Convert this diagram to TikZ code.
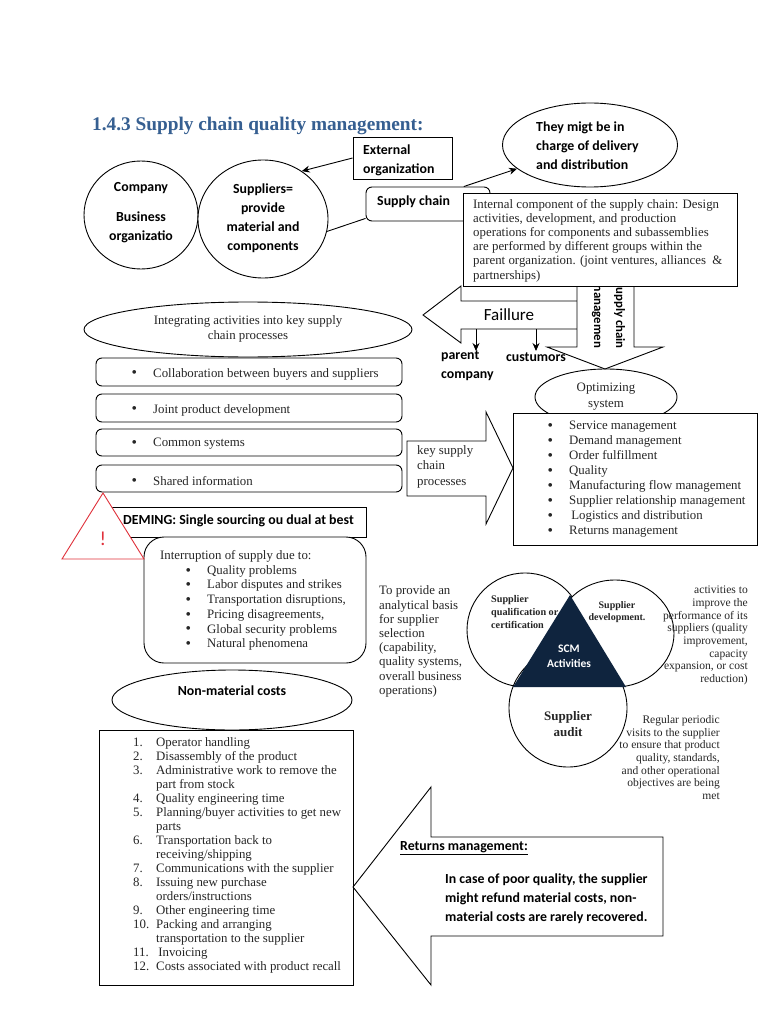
\documentclass[tikz,border=0pt]{standalone}
\usepackage{fontspec}
\setmainfont{Liberation Serif}
\newfontfamily\crl{Carlito}
\usetikzlibrary{shapes.geometric,arrows.meta}
\definecolor{ink}{HTML}{262626}
\definecolor{headblue}{HTML}{365F91}
\definecolor{navy}{HTML}{0F243E}
\definecolor{warn}{HTML}{E0313B}
\newcommand{\fs}[2]{\fontsize{#1}{#2}\selectfont}
\newcommand{\bigbul}{\raisebox{-0.9pt}{\fs{15.5}{15.5}\textbullet}}
\newcommand{\bl}[1]{\makebox[21pt][l]{\hspace{-0.5pt}\bigbul}#1}
\newcommand{\cn}[2]{\makebox[23pt][l]{#1}#2}
\tikzset{
  x=1pt,y=-1pt,
  shp/.style={draw=black,line width=0.9pt,fill=white,inner sep=0pt},
  ell/.style={shp,ellipse},
  rct/.style={shp,rectangle},
  rnd/.style={shp,rectangle,rounded corners=6pt},
  lab/.style={inner sep=0pt,text=black,font=\crl\bfseries\fs{13.85}{19},align=left},
  labc/.style={lab,align=center},
  ser/.style={inner sep=0pt,text=ink,font=\fs{12.85}{14.2},align=left},
  serc/.style={ser,align=center},
  serr/.style={ser,font=\fs{11.55}{12.7},align=right},
  conn/.style={line width=0.9pt},
  arr/.style={conn,-{Stealth[length=8pt,width=7pt]}},
}
\begin{document}
\begin{tikzpicture}
\useasboundingbox[fill=white] (0,0) rectangle (768,1024);
% title
\node[anchor=base west,inner sep=0pt,text=headblue,font=\bfseries\fs{19.3}{21}] (title) at (92,131) {1.4.3 Supply chain quality management:};
% top left circles
\node[ell,minimum width=114pt,minimum height=108pt] (co) at (141,215) {};
\node[ell,minimum width=130pt,minimum height=118pt] (sup) at (263,219) {};
\node[labc] (cotxt) at (141,213) {Company\\[11pt]Business\\organizatio};
\node[labc] (suptxt) at (263,218.5) {Suppliers=\\provide\\material and\\components};
% external
\node[rct,minimum width=99pt,minimum height=42pt] (ext) at (402.5,158) {};
\node[lab,anchor=west] (exttxt) at (363,160.5) {External\\organization};
\draw[arr] (ext.west) -- (sup.51);
% they
\node[ell,minimum width=175pt,minimum height=84pt] (they) at (590,145) {};
\node[lab,anchor=west] (theytxt) at (536,146) {They migt be in\\charge of delivery\\and distribution};
% supply chain
\node[rnd,minimum width=124pt,minimum height=34pt] (sc) at (428,204) {};
\node[lab,anchor=west] (sctxt) at (377,201.5) {Supply chain};
\draw[conn] (sup.-11) -- (sc.193);
\draw[arr] (sc.26) -- (they.198);
% failure arrow
\draw[shp] (461,286) -- (461,301) -- (590,301) -- (590,329) -- (461,329) -- (461,343) -- (423,315) -- cycle;
\node[lab,font=\crl\fs{17}{19}] (fail) at (509,315) {Faillure};
\coordinate (f1) at (476,329);
\coordinate (f2) at (536,329);
\coordinate (p1) at (476,351);
\coordinate (p2) at (536,351);
\draw[arr] (f1) -- (p1);
\draw[arr] (f2) -- (p2);
\node[lab,anchor=west] (par) at (441,366) {parent\\company};
% optimizing ellipse
\node[ell,minimum width=142pt,minimum height=56pt] (opt) at (606,397) {};
\node[serc] (opttxt) at (606,396.5) {Optimizing\\[1.5pt]system};
% down arrow
\draw[shp] (577,280) -- (577,347) -- (547,347) -- (605,369) -- (663,347) -- (634,347) -- (634,280) -- cycle;
\node[labc,rotate=-90,font=\crl\bfseries\fs{12.8}{22}] (mgmt) at (608.5,315) {Supply chain\\managemen};
\node[lab] (cus) at (536,357) {custumors};
% internal
\node[rct,minimum width=274pt,minimum height=93pt] (int) at (600,239.5) {};
\node[ser,anchor=west] (inttxt) at (473,240.5) {Internal component of the supply chain: Design\\activities, development, and production\\operations for components and subassemblies\\are performed by different groups within the\\parent organization. (joint ventures, alliances \ \&\\partnerships)};
% integrating
\node[ell,minimum width=328pt,minimum height=55pt] (integ) at (248,329.5) {};
\node[serc,font=\fs{12.85}{15}] (integtxt) at (248,329) {Integrating activities into key supply\\chain processes};
\node[rnd,minimum width=306pt,minimum height=28pt] (r1) at (249,372) {};
\node[rnd,minimum width=306pt,minimum height=28pt] (r2) at (249,408) {};
\node[rnd,minimum width=306pt,minimum height=27pt] (r3) at (249,442.5) {};
\node[rnd,minimum width=306pt,minimum height=27pt] (r4) at (249,478.5) {};
\node[ser,anchor=west] (r1t) at (132,374) {\bl{Collaboration between buyers and suppliers}};
\node[ser,anchor=west] (r2t) at (132,410) {\bl{Joint product development}};
\node[ser,anchor=west] (r3t) at (132,444) {\bl{Common systems}};
\node[ser,anchor=west] (r4t) at (132,481) {\bl{Shared information}};
% key arrow
\draw[shp] (407,441) -- (486,441) -- (486,412) -- (513,468) -- (486,524) -- (486,496) -- (407,496) -- cycle;
\node[ser,anchor=west,font=\fs{12.85}{15.5}] (keytxt) at (417,466.5) {key supply\\chain\\processes};
% list box
\node[rct,minimum width=244pt,minimum height=132pt] (lst) at (635,479) {};
\node[ser,anchor=west,font=\fs{12.85}{15}] (lsttxt) at (548,479.5) {\bl{Service management}\\\bl{Demand management}\\\bl{Order fulfillment}\\\bl{Quality}\\\bl{Manufacturing flow management}\\\bl{Supplier relationship management}\\\bl{\,Logistics and distribution}\\\bl{Returns management}};
% deming + warning
\node[rct,minimum width=254pt,minimum height=30pt] (dem) at (239,522) {};
\node[rnd,rounded corners=20pt,minimum width=222pt,minimum height=126pt] (intr) at (255,600) {};
\draw[draw=warn,line width=0.9pt,fill=white] (103,493) -- (144,559) -- (62,559) -- cycle;
\node[inner sep=0pt,text=warn,font=\crl\fs{20}{22}] (bang) at (103,539) {!};
\node[lab,anchor=west,font=\crl\bfseries\fs{13.85}{16}] (demtxt) at (123,520.5) {DEMING: Single sourcing ou dual at best};
\node[ser,anchor=west,font=\fs{12.85}{14.7}] (intrtxt) at (160,600.5) {Interruption of supply due to:\\\hspace*{26pt}\bl{Quality problems}\\\hspace*{26pt}\bl{Labor disputes and strikes}\\\hspace*{26pt}\bl{Transportation disruptions,}\\\hspace*{26pt}\bl{Pricing disagreements,}\\\hspace*{26pt}\bl{Global security problems}\\\hspace*{26pt}\bl{Natural phenomena}};
% non material
\node[ell,minimum width=240pt,minimum height=60pt] (nm) at (232,700) {};
\node[lab] (nmtxt) at (232,690.5) {Non-material costs};
% cost list
\node[rct,minimum width=254pt,minimum height=255pt] (cost) at (226,857.5) {};
\node[ser,anchor=west,font=\fs{12.85}{14}] (costtxt) at (133,855) {\cn{1.}{Operator handling}\\\cn{2.}{Disassembly of the product}\\\cn{3.}{Administrative work to remove the}\\\hspace*{23pt}part from stock\\\cn{4.}{Quality engineering time}\\\cn{5.}{Planning/buyer activities to get new}\\\hspace*{23pt}parts\\\cn{6.}{Transportation back to}\\\hspace*{23pt}receiving/shipping\\\cn{7.}{Communications with the supplier}\\\cn{8.}{Issuing new purchase}\\\hspace*{23pt}orders/instructions\\\cn{9.}{Other engineering time}\\\cn{10.}{Packing and arranging}\\\hspace*{23pt}transportation to the supplier\\\cn{11.}{\,Invoicing}\\\cn{12.}{Costs associated with product recall}};
% returns arrow
\draw[shp] (663,837) -- (431,837) -- (431,787) -- (353,887) -- (431,985) -- (431,936) -- (663,936) -- cycle;
\node[lab,anchor=west,font=\crl\bfseries\fs{13.85}{15}] (rettxt) at (400,848.5) {\underline{Returns management:}};
\node[lab,anchor=west,font=\crl\bfseries\fs{13.85}{19}] (rettxt2) at (445,898.5) {In case of poor quality, the supplier\\might refund material costs, non-\\material costs are rarely recovered.};
% venn
\node[ell,minimum width=116pt,minimum height=114pt] (v1) at (525,630) {};
\node[ell,minimum width=118pt,minimum height=107pt] (v2) at (615,633.5) {};
\node[ell,minimum width=118pt,minimum height=118pt] (v3) at (568,708) {};
\fill[navy] (570,595) -- (626,687) -- (513,687) -- cycle;
\node[ser,anchor=west,font=\bfseries\fs{10.2}{13}] (v1t) at (491,612.5) {Supplier\\qualification or\\certification};
\node[ser,align=center,font=\bfseries\fs{10}{12.5}] (v2t) at (617,612) {Supplier\\development.};
\node[inner sep=0pt,align=center,text=white,font=\crl\bfseries\fs{11.5}{15}] (v0t) at (569,656) {SCM\\Activities};
\node[ser,align=center,font=\bfseries\fs{13}{16}] (v3t) at (568,724) {Supplier\\audit};
\node[ser,anchor=west] (ltxt) at (379,641.5) {To provide an\\analytical basis\\for supplier\\selection\\(capability,\\quality systems,\\overall business\\operations)};
\node[serr,anchor=east] (rtxt) at (748,635.5) {activities to\\improve the\\performance of its\\suppliers (quality\\improvement,\\capacity\\expansion, or cost\\reduction)};
\node[serr,anchor=east] (atxt) at (720,757.5) {Regular periodic\\visits to the supplier\\to ensure that product\\quality, standards,\\and other operational\\objectives are being\\met};
\end{tikzpicture}
\end{document}
